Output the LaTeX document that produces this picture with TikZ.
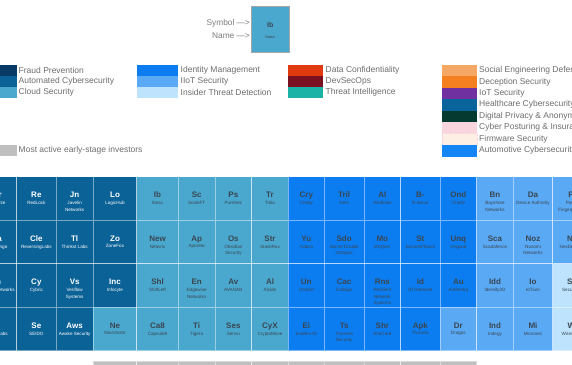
\documentclass[tikz,border=0pt]{standalone}
\usepackage{fontspec}
\setmainfont{Liberation Sans}
\definecolor{cfraud}{HTML}{073A66}
\definecolor{cauto}{HTML}{0B6297}
\definecolor{ccloud}{HTML}{4AA8CF}
\definecolor{cident}{HTML}{0C7DF0}
\definecolor{ciiot}{HTML}{5AA9F5}
\definecolor{cinsid}{HTML}{BEE3FD}
\definecolor{cdata}{HTML}{E03A10}
\definecolor{cdevs}{HTML}{7A1020}
\definecolor{cthreat}{HTML}{1AB3A6}
\definecolor{csocial}{HTML}{F5A866}
\definecolor{cdecep}{HTML}{F58020}
\definecolor{ciot}{HTML}{7030A0}
\definecolor{chealth}{HTML}{08649A}
\definecolor{cpriv}{HTML}{043A30}
\definecolor{cposture}{HTML}{F9D5DD}
\definecolor{cfirm}{HTML}{FDEFE3}
\definecolor{cauto2}{HTML}{1485F5}
\definecolor{cgray}{HTML}{BFBFBF}
\definecolor{ltext}{HTML}{6E6E6E}
\definecolor{dtext}{HTML}{3A4650}
\definecolor{wtext}{HTML}{FFFFFF}
\def\xb{{-22,16.7,56,93.3,136.7,178.3,215,251.7,288.3,324.3,364,400.7,440,476.7,513.3,552.7,592}}
\def\yb{{176.5,220,263.5,307,350.5}}
\newcommand\cellx[6]{%
  \pgfmathsetmacro\cxa{\xb[#1]}\pgfmathsetmacro\cxb{\xb[#1+1]}%
  \pgfmathsetmacro\cya{\yb[#2]}\pgfmathsetmacro\cyb{\yb[#2+1]}%
  \pgfmathsetmacro\cxm{(\cxa+\cxb)/2}\pgfmathsetmacro\cym{(\cya+\cyb)/2}%
  \pgfmathsetmacro\cw{\cxb-\cxa}\pgfmathsetmacro\ch{\cyb-\cya}%
  \node[cellbox, fill=#3, minimum width=\cw pt, minimum height=\ch pt] (c#1-#2) at (\cxm,\cym) {};
  \node[symtext, text=#4, anchor=base] (s#1-#2) at (\cxm,\cya+21) {#5};
  \node[nametext, text=#4, anchor=north] (n#1-#2) at (\cxm,\cya+24.6) {#6};
}
\tikzset{
  cellbox/.style={rectangle, inner sep=0pt, draw=white, draw opacity=0.45, line width=0.6pt},
  symtext/.style={font=\bfseries\fontsize{8}{9}\selectfont, inner sep=0pt},
  nametext/.style={font=\fontsize{4.6}{6.6}\selectfont, align=center, inner sep=0pt},
  legtext/.style={font=\fontsize{8.5}{10}\selectfont, text=ltext, anchor=west, inner sep=0pt},
  swatch/.style={rectangle, inner sep=0pt, anchor=north west},
}
\begin{document}
\begin{tikzpicture}[x=1pt,y=-1pt]
\useasboundingbox (0,0) rectangle (572,364);
\fill[white] (0,0) rectangle (572,364);
% key box
\node[rectangle, fill=ccloud, draw=gray!70, line width=0.4pt, minimum width=37.5pt, minimum height=46pt, inner sep=0pt] (key) at (270.2,29) {};
\node[font=\bfseries\fontsize{7}{8}\selectfont, text=dtext, inner sep=0pt, anchor=base] (keysym) at (270.2,27.5) {Ib};
\node[font=\fontsize{4}{5}\selectfont, text=dtext, inner sep=0pt] (keyname) at (270.2,37) {Iboss};
\node[font=\fontsize{8.3}{10}\selectfont, text=ltext!90, anchor=east, inner sep=0pt] (lsym) at (250,23.5) {Symbol --->};
\node[font=\fontsize{8.3}{10}\selectfont, text=ltext!90, anchor=east, inner sep=0pt] (lname) at (250,35.5) {Name --->};
% legend column 1
\node[swatch, fill=cfraud, minimum width=16.5pt, minimum height=11pt] (w1) at (0,65) {};
\node[swatch, fill=cauto, minimum width=16.5pt, minimum height=11pt] (w2) at (0,76) {};
\node[swatch, fill=ccloud, minimum width=16.5pt, minimum height=11pt] (w3) at (0,87) {};
\node[legtext] (t1) at (18.5,70.5) {Fraud Prevention};
\node[legtext] (t2) at (18.5,81.5) {Automated Cybersecurity};
\node[legtext] (t3) at (18.5,92.5) {Cloud Security};
% legend column 2
\node[swatch, fill=cident, minimum width=41pt, minimum height=11pt] (w4) at (137,65) {};
\node[swatch, fill=ciiot, minimum width=41pt, minimum height=11pt] (w5) at (137,76) {};
\node[swatch, fill=cinsid, minimum width=41pt, minimum height=11pt] (w6) at (137,87) {};
\node[legtext] (t4) at (180.5,70.5) {Identity Management};
\node[legtext] (t5) at (180.5,81.5) {IIoT Security};
\node[legtext] (t6) at (180.5,92.5) {Insider Threat Detection};
% legend column 3
\node[swatch, fill=cdata, minimum width=35pt, minimum height=11pt] (w7) at (288,65) {};
\node[swatch, fill=cdevs, minimum width=35pt, minimum height=11pt] (w8) at (288,76) {};
\node[swatch, fill=cthreat, minimum width=35pt, minimum height=11pt] (w9) at (288,87) {};
\node[legtext] (t7) at (325.5,70.5) {Data Confidentiality};
\node[legtext] (t8) at (325.5,81.5) {DevSecOps};
\node[legtext] (t9) at (325.5,92.5) {Threat Intelligence};
% legend column 4
\node[swatch, fill=csocial, minimum width=35pt, minimum height=11.4pt] (w10) at (441.5,64.8) {};
\node[swatch, fill=cdecep, minimum width=35pt, minimum height=11.4pt] (w11) at (441.5,76.2) {};
\node[swatch, fill=ciot, minimum width=35pt, minimum height=11.4pt] (w12) at (441.5,87.6) {};
\node[swatch, fill=chealth, minimum width=35pt, minimum height=11.4pt] (w13) at (441.5,99) {};
\node[swatch, fill=cpriv, minimum width=35pt, minimum height=11.4pt] (w14) at (441.5,110.4) {};
\node[swatch, fill=cposture, minimum width=35pt, minimum height=11.4pt] (w15) at (441.5,121.8) {};
\node[swatch, fill=cfirm, draw=cposture, densely dotted, line width=0.3pt, minimum width=35pt, minimum height=11.4pt] (w16) at (441.5,133.2) {};
\node[swatch, fill=cauto2, minimum width=35pt, minimum height=12pt] (w17) at (441.5,144.6) {};
\node[legtext] (t10) at (479,70.5) {Social Engineering Defense};
\node[legtext] (t11) at (479,81.9) {Deception Security};
\node[legtext] (t12) at (479,93.3) {IoT Security};
\node[legtext] (t13) at (479,104.7) {Healthcare Cybersecurity};
\node[legtext] (t14) at (479,116.1) {Digital Privacy \& Anonymity};
\node[legtext] (t15) at (479,127.5) {Cyber Posturing \& Insurance};
\node[legtext] (t16) at (479,138.9) {Firmware Security};
\node[legtext] (t17) at (479,150.6) {Automotive Cybersecurity};
% investors
\node[swatch, fill=cgray, minimum width=16.5pt, minimum height=11.5pt] (w18) at (0,144.5) {};
\node[legtext] (t18) at (18.5,150.3) {Most active early-stage investors};
% row 0
\cellx{0}{0}{cauto}{wtext}{Ar}{Analyze}
\cellx{1}{0}{cauto}{wtext}{Re}{RedLock}
\cellx{2}{0}{cauto}{wtext}{Jn}{Javelin\\Networks}
\cellx{3}{0}{cauto}{wtext}{Lo}{LogicHub}
\cellx{4}{0}{ccloud}{dtext}{Ib}{Iboss}
\cellx{5}{0}{ccloud}{dtext}{Sc}{ScaleFT}
\cellx{6}{0}{ccloud}{dtext}{Ps}{PureSec}
\cellx{7}{0}{ccloud}{dtext}{Tr}{Trilio}
\cellx{8}{0}{cident}{dtext}{Cry}{Credly}
\cellx{9}{0}{cident}{dtext}{Tril}{Gem}
\cellx{10}{0}{cident}{dtext}{AI}{AimBrain}
\cellx{11}{0}{cident}{dtext}{B-}{B-Secur}
\cellx{12}{0}{cident}{dtext}{Ond}{OneID}
\cellx{13}{0}{ciiot}{dtext}{Bn}{Bayshore\\Networks}
\cellx{14}{0}{ciiot}{dtext}{Da}{Device Authority}
\cellx{15}{0}{ciiot}{dtext}{Pf}{Power\\Fingerprinting}
% row 1
\cellx{0}{1}{cauto}{wtext}{Ja}{Jumpingo}
\cellx{1}{1}{cauto}{wtext}{Cle}{ReversingLabs}
\cellx{2}{1}{cauto}{wtext}{Tl}{Thinkst Labs}
\cellx{3}{1}{cauto}{wtext}{Zo}{ZoneFox}
\cellx{4}{1}{ccloud}{dtext}{New}{Netwrix}
\cellx{5}{1}{ccloud}{dtext}{Ap}{Aporeto}
\cellx{6}{1}{ccloud}{dtext}{Os}{Obsidian\\Security}
\cellx{7}{1}{ccloud}{dtext}{Str}{StackRox}
\cellx{8}{1}{cident}{dtext}{Yu}{Yubico}
\cellx{9}{1}{cident}{dtext}{Sdo}{Secret Double\\Octopus}
\cellx{10}{1}{cident}{dtext}{Mo}{MoQom}
\cellx{11}{1}{cident}{dtext}{St}{SecuredTouch}
\cellx{12}{1}{cident}{dtext}{Unq}{Unqpod}
\cellx{13}{1}{ciiot}{dtext}{Sca}{Scadafence}
\cellx{14}{1}{ciiot}{dtext}{Noz}{Nozomi\\Networks}
\cellx{15}{1}{ciiot}{dtext}{Ne}{NexDefense}
% row 2
\cellx{0}{2}{cauto}{wtext}{In}{Illusive Networks}
\cellx{1}{2}{cauto}{wtext}{Cy}{Cybric}
\cellx{2}{2}{cauto}{wtext}{Vs}{Veriflow\\Systems}
\cellx{3}{2}{cauto}{wtext}{Inc}{Infocyte}
\cellx{4}{2}{ccloud}{dtext}{Shl}{ShiftLeft}
\cellx{5}{2}{ccloud}{dtext}{En}{Edgewise\\Networks}
\cellx{6}{2}{ccloud}{dtext}{Av}{AVANAN}
\cellx{7}{2}{ccloud}{dtext}{Al}{Alcide}
\cellx{8}{2}{cident}{dtext}{Un}{UnifyID}
\cellx{9}{2}{cident}{dtext}{Cac}{Callsign}
\cellx{10}{2}{cident}{dtext}{Rns}{Resilient\\Network\\Systems}
\cellx{11}{2}{cident}{dtext}{Id}{ID Dataweb}
\cellx{12}{2}{cident}{dtext}{Au}{Authentiq}
\cellx{13}{2}{ciiot}{dtext}{Idd}{Identify3D}
\cellx{14}{2}{ciiot}{dtext}{Io}{IoTium}
\cellx{15}{2}{cinsid}{dtext}{Su}{Securonix}
% row 3
\cellx{0}{3}{cauto}{wtext}{Jl}{Jask Labs}
\cellx{1}{3}{cauto}{wtext}{Se}{SEIDO}
\cellx{2}{3}{cauto}{wtext}{Aws}{Awake Security}
\cellx{3}{3}{ccloud}{dtext}{Ne}{NeuVector}
\cellx{4}{3}{ccloud}{dtext}{Ca8}{Capsule8}
\cellx{5}{3}{ccloud}{dtext}{Ti}{Tigera}
\cellx{6}{3}{ccloud}{dtext}{Ses}{Sensu}
\cellx{7}{3}{ccloud}{dtext}{CyX}{CryptoMove}
\cellx{8}{3}{cident}{dtext}{Ei}{Evident ID}
\cellx{9}{3}{cident}{dtext}{Ts}{Transmit\\Security}
\cellx{10}{3}{cident}{dtext}{Shr}{ShoCard}
\cellx{11}{3}{cident}{dtext}{Apk}{Trusona}
\cellx{12}{3}{ciiot}{dtext}{Dr}{Dragos}
\cellx{13}{3}{ciiot}{dtext}{Ind}{Indegy}
\cellx{14}{3}{ciiot}{dtext}{Mi}{Microsec}
\cellx{15}{3}{cinsid}{dtext}{Wi}{Wirewheel}
% bottom investor row (cut off)
\foreach \i in {3,...,12}{
  \pgfmathsetmacro\gxa{\xb[\i]}\pgfmathsetmacro\gxb{\xb[\i+1]}
  \pgfmathsetmacro\gxm{(\gxa+\gxb)/2}\pgfmathsetmacro\gw{\gxb-\gxa}
  \node[cellbox, fill=cgray, minimum width=\gw pt, minimum height=40pt] (g\i) at (\gxm,381) {};
}
\end{tikzpicture}
\end{document}
